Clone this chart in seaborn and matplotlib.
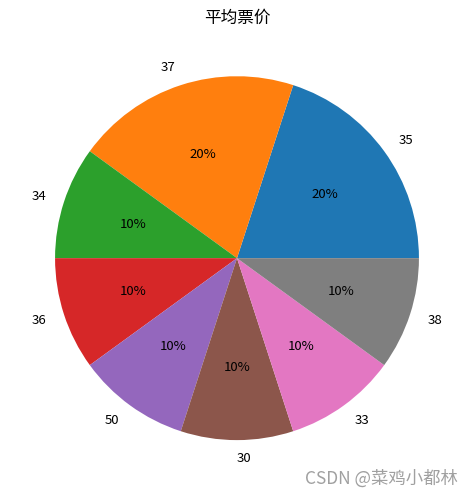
"""
Pie chart of average ticket price distribution
"""

import matplotlib
matplotlib.use("Agg")
import matplotlib.pyplot as plt
import seaborn as sns

sns.set_style("white")
plt.rcParams['font.family'] = ['Noto Sans CJK SC', 'DejaVu Sans']
plt.rcParams['axes.unicode_minus'] = False
plt.rcParams['text.color'] = 'black'

# data
prices = ['35', '37', '34', '36', '50', '30', '33', '38']
counts = [2, 2, 1, 1, 1, 1, 1, 1]
title = '平均票价'
watermark = 'CSDN @菜鸡小都林'

fig = plt.figure(figsize=(4.74, 4.96), dpi=100)
ax = fig.add_axes([0.02, 0.021, 0.96, 0.917])

colors = sns.color_palette("tab10", len(prices))
ax.pie(counts, labels=prices, autopct='%1.0f%%', colors=colors,
       wedgeprops={'linewidth': 0},
       textprops={'fontsize': 9.5, 'color': 'black'})
ax.set_title(title, fontsize=12, color='black')

fig.text(0.965, 0.035, watermark, ha='right', va='center',
         fontsize=12.5, color='#a0a0a0')

fig.savefig('out.png', dpi=100)
